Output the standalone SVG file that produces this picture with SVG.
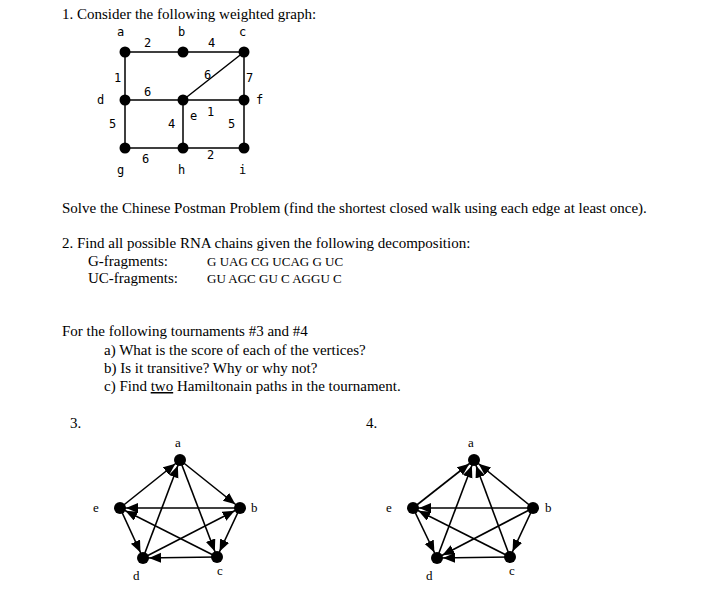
<svg xmlns="http://www.w3.org/2000/svg" width="718" height="600" viewBox="0 0 718 600">
<style>
text{font-family:"Liberation Serif",serif;font-size:15px;fill:#000}
.s{font-size:13px}
.g{font-family:"DejaVu Sans Mono",monospace;font-size:12px}
.e{stroke:#000;stroke-width:1.5;fill:none}
.a{stroke:#000;stroke-width:1.6;marker-end:url(#ar)}
</style>
<defs>
<marker id="ar" markerUnits="userSpaceOnUse" markerWidth="20" markerHeight="12" refX="18" refY="5" orient="auto"><path d="M0,0 L12,5 L0,10 z" fill="#000"/></marker>
</defs>
<rect width="718" height="600" fill="#fff"/>
<text x="62" y="19">1. Consider the following weighted graph:</text>
<g id="graph1">
<g id="edges1">
<path class="e" d="M125,52H244V148H125Z M125,100H244 M183,100V148 M183,100L244,52"/>
</g>
<g id="n-a"><circle cx="125" cy="52" r="5.5"/><text class="g" x="117" y="36">a</text></g>
<g id="n-b"><circle cx="183" cy="52" r="5.5"/><text class="g" x="178" y="36">b</text></g>
<g id="n-c"><circle cx="244" cy="52" r="5.5"/><text class="g" x="239" y="36">c</text></g>
<g id="n-d"><circle cx="125" cy="100" r="5.5"/><text class="g" x="97" y="104">d</text></g>
<g id="n-e"><circle cx="183" cy="100" r="5.5"/><text class="g" x="190" y="120">e</text></g>
<g id="n-f"><circle cx="244" cy="100" r="5.5"/><text class="g" x="256" y="104">f</text></g>
<g id="n-g"><circle cx="125" cy="148" r="5.5"/><text class="g" x="117" y="174">g</text></g>
<g id="n-h"><circle cx="183" cy="148" r="5.5"/><text class="g" x="178" y="174">h</text></g>
<g id="n-i"><circle cx="244" cy="148" r="5.5"/><text class="g" x="239" y="174">i</text></g>
<g id="weights" class="g">
<text class="g" x="144" y="47">2</text><text class="g" x="208" y="47">4</text>
<text class="g" x="114" y="82">1</text><text class="g" x="204" y="79">6</text><text class="g" x="246" y="82">7</text>
<text class="g" x="144" y="96">6</text><text class="g" x="207" y="116">1</text>
<text class="g" x="109" y="128">5</text><text class="g" x="168" y="128">4</text><text class="g" x="228" y="128">5</text>
<text class="g" x="142" y="163">6</text><text class="g" x="207" y="159">2</text>
</g>
</g>
<text x="62" y="213">Solve the Chinese Postman Problem (find the shortest closed walk using each edge at least once).</text>
<text x="62" y="248">2.  Find all possible RNA chains given the following decomposition:</text>
<text x="88" y="266">G-fragments:</text><text class="s" x="207" y="266">G UAG CG UCAG G UC</text>
<text x="88" y="283">UC-fragments:</text><text class="s" x="207" y="283">GU AGC GU C AGGU C</text>
<text x="62" y="336">For the following tournaments #3 and #4</text>
<text x="104" y="355">a)  What is the score of each of the vertices?</text>
<text x="104" y="373">b)  Is it transitive?  Why or why not?</text>
<text x="104" y="391">c)  Find <tspan text-decoration="underline">two</tspan> Hamiltonain paths in the tournament.</text>
<text x="70" y="428">3.</text>
<text x="366" y="428">4.</text>
<g id="t3">
<g id="t3-edges">
<line class="a" x1="120" y1="508" x2="180" y2="460"/>
<line class="a" x1="180" y1="460" x2="240" y2="508"/>
<line class="a" x1="240" y1="508" x2="120" y2="508"/>
<line class="a" x1="240" y1="508" x2="217" y2="557"/>
<line class="a" x1="120" y1="508" x2="143" y2="558"/>
<line class="a" x1="217" y1="557" x2="143" y2="558"/>
<line class="a" x1="143" y1="558" x2="180" y2="460"/>
<line class="a" x1="180" y1="460" x2="217" y2="557"/>
<line class="a" x1="143" y1="558" x2="240" y2="508"/>
<line class="a" x1="217" y1="557" x2="120" y2="508"/>
</g>
<g id="t3-a"><circle cx="180" cy="460" r="6"/><text class="s" x="175" y="447">a</text></g>
<g id="t3-b"><circle cx="240" cy="508" r="6"/><text class="s" x="251" y="512">b</text></g>
<g id="t3-c"><circle cx="217" cy="557" r="6"/><text class="s" x="217" y="575">c</text></g>
<g id="t3-d"><circle cx="143" cy="558" r="6"/><text class="s" x="133" y="580">d</text></g>
<g id="t3-e"><circle cx="120" cy="508" r="6"/><text class="s" x="93" y="512">e</text></g>
</g>
<g id="t4">
<g id="t4-edges">
<line class="a" x1="413" y1="508" x2="474" y2="460"/>
<line class="a" x1="533" y1="508" x2="474" y2="460"/>
<line class="a" x1="437" y1="558" x2="474" y2="460"/>
<line class="a" x1="510" y1="557" x2="474" y2="460"/>
<line class="a" x1="533" y1="508" x2="413" y2="508"/>
<line class="a" x1="510" y1="557" x2="413" y2="508"/>
<line class="a" x1="413" y1="508" x2="437" y2="558"/>
<line class="a" x1="533" y1="508" x2="437" y2="558"/>
<line class="a" x1="510" y1="557" x2="437" y2="558"/>
<line class="a" x1="533" y1="508" x2="510" y2="557"/>
</g>
<g id="t4-a"><circle cx="474" cy="460" r="6"/><text class="s" x="468" y="447">a</text></g>
<g id="t4-b"><circle cx="533" cy="508" r="6"/><text class="s" x="545" y="512">b</text></g>
<g id="t4-c"><circle cx="510" cy="557" r="6"/><text class="s" x="509" y="575">c</text></g>
<g id="t4-d"><circle cx="437" cy="558" r="6"/><text class="s" x="426" y="580">d</text></g>
<g id="t4-e"><circle cx="413" cy="508" r="6"/><text class="s" x="386" y="512">e</text></g>
</g>
</svg>
